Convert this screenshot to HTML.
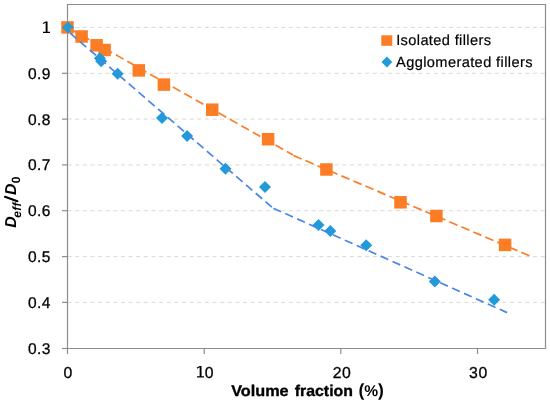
<!DOCTYPE html><html><head><meta charset="utf-8"><style>html,body{margin:0;padding:0;background:#fff;width:550px;height:404px;overflow:hidden}svg{display:block;will-change:transform}text{font-family:"Liberation Sans",sans-serif;fill:#000;text-rendering:geometricPrecision}.tk{stroke:#000;stroke-width:0.3px}.tb{stroke:#000;stroke-width:0.35px}.lg{stroke:#000;stroke-width:0.2px}</style></head><body>
<svg width="550" height="404" viewBox="0 0 550 404">
<rect width="550" height="404" fill="#fff"/>
<line x1="67.5" y1="27.4" x2="545" y2="27.4" stroke="#d9d9d9" stroke-width="1" stroke-dasharray="4.1 3.53"/>
<line x1="67.5" y1="73.3" x2="545" y2="73.3" stroke="#d9d9d9" stroke-width="1" stroke-dasharray="4.1 3.53"/>
<line x1="67.5" y1="119.1" x2="545" y2="119.1" stroke="#d9d9d9" stroke-width="1" stroke-dasharray="4.1 3.53"/>
<line x1="67.5" y1="164.9" x2="545" y2="164.9" stroke="#d9d9d9" stroke-width="1" stroke-dasharray="4.1 3.53"/>
<line x1="67.5" y1="210.7" x2="545" y2="210.7" stroke="#d9d9d9" stroke-width="1" stroke-dasharray="4.1 3.53"/>
<line x1="67.5" y1="256.6" x2="545" y2="256.6" stroke="#d9d9d9" stroke-width="1" stroke-dasharray="4.1 3.53"/>
<line x1="67.5" y1="302.4" x2="545" y2="302.4" stroke="#d9d9d9" stroke-width="1" stroke-dasharray="4.1 3.53"/>
<path d="M67.5 4.5 H545.5 V348.5 H67.5 Z" fill="none" stroke="#8c8c8c" stroke-width="1.2"/>
<line x1="62" y1="27.4" x2="67.5" y2="27.4" stroke="#8c8c8c" stroke-width="1.2"/>
<line x1="62" y1="73.3" x2="67.5" y2="73.3" stroke="#8c8c8c" stroke-width="1.2"/>
<line x1="62" y1="119.1" x2="67.5" y2="119.1" stroke="#8c8c8c" stroke-width="1.2"/>
<line x1="62" y1="164.9" x2="67.5" y2="164.9" stroke="#8c8c8c" stroke-width="1.2"/>
<line x1="62" y1="210.7" x2="67.5" y2="210.7" stroke="#8c8c8c" stroke-width="1.2"/>
<line x1="62" y1="256.6" x2="67.5" y2="256.6" stroke="#8c8c8c" stroke-width="1.2"/>
<line x1="62" y1="302.4" x2="67.5" y2="302.4" stroke="#8c8c8c" stroke-width="1.2"/>
<line x1="62" y1="348.5" x2="67.5" y2="348.5" stroke="#8c8c8c" stroke-width="1.2"/>
<line x1="67.5" y1="348.5" x2="67.5" y2="354" stroke="#8c8c8c" stroke-width="1.2"/>
<line x1="204.2" y1="348.5" x2="204.2" y2="354" stroke="#8c8c8c" stroke-width="1.2"/>
<line x1="340.8" y1="348.5" x2="340.8" y2="354" stroke="#8c8c8c" stroke-width="1.2"/>
<line x1="477.5" y1="348.5" x2="477.5" y2="354" stroke="#8c8c8c" stroke-width="1.2"/>
<rect x="61.25" y="21.15" width="12.5" height="12.5" fill="#fb7d26"/>
<rect x="75.35" y="30.25" width="12.5" height="12.5" fill="#fb7d26"/>
<rect x="90.35" y="39.05" width="12.5" height="12.5" fill="#fb7d26"/>
<rect x="98.35" y="43.75" width="12.5" height="12.5" fill="#fb7d26"/>
<rect x="132.55" y="64.15" width="12.5" height="12.5" fill="#fb7d26"/>
<rect x="157.65" y="78.35" width="12.5" height="12.5" fill="#fb7d26"/>
<rect x="205.95" y="103.45" width="12.5" height="12.5" fill="#fb7d26"/>
<rect x="261.85" y="132.95" width="12.5" height="12.5" fill="#fb7d26"/>
<rect x="320.15" y="163.25" width="12.5" height="12.5" fill="#fb7d26"/>
<rect x="394.25" y="196.05" width="12.5" height="12.5" fill="#fb7d26"/>
<rect x="430.15" y="209.75" width="12.5" height="12.5" fill="#fb7d26"/>
<rect x="498.85" y="238.65" width="12.5" height="12.5" fill="#fb7d26"/>
<path d="M68.00 21.40 L74.00 27.40 L68.00 33.40 L62.00 27.40 Z" fill="#209ad9"/>
<path d="M99.85 52.20 L105.85 58.20 L99.85 64.20 L93.85 58.20 Z" fill="#209ad9"/>
<path d="M101.20 55.20 L107.20 61.20 L101.20 67.20 L95.20 61.20 Z" fill="#209ad9"/>
<path d="M117.60 67.80 L123.60 73.80 L117.60 79.80 L111.60 73.80 Z" fill="#209ad9"/>
<path d="M162.00 112.10 L168.00 118.10 L162.00 124.10 L156.00 118.10 Z" fill="#209ad9"/>
<path d="M187.10 130.10 L193.10 136.10 L187.10 142.10 L181.10 136.10 Z" fill="#209ad9"/>
<path d="M225.50 162.80 L231.50 168.80 L225.50 174.80 L219.50 168.80 Z" fill="#209ad9"/>
<path d="M265.00 181.10 L271.00 187.10 L265.00 193.10 L259.00 187.10 Z" fill="#209ad9"/>
<path d="M318.50 219.00 L324.50 225.00 L318.50 231.00 L312.50 225.00 Z" fill="#209ad9"/>
<path d="M330.30 225.10 L336.30 231.10 L330.30 237.10 L324.30 231.10 Z" fill="#209ad9"/>
<path d="M366.20 239.20 L372.20 245.20 L366.20 251.20 L360.20 245.20 Z" fill="#209ad9"/>
<path d="M434.80 275.60 L440.80 281.60 L434.80 287.60 L428.80 281.60 Z" fill="#209ad9"/>
<path d="M494.10 293.80 L500.10 299.80 L494.10 305.80 L488.10 299.80 Z" fill="#209ad9"/>
<path d="M67.5 27.4 L293 155" fill="none" stroke="#fb7d26" stroke-width="1.7" stroke-dasharray="8.8 4.3" stroke-dashoffset="-3.2"/>
<path d="M293 155.3 L530 256" fill="none" stroke="#fb7d26" stroke-width="1.7" stroke-dasharray="8.8 4.23" stroke-dashoffset="-0.48"/>
<path d="M68.5 31.7 L272.8 208" fill="none" stroke="#4a86e8" stroke-width="1.7" stroke-dasharray="8.4 4.5" stroke-dashoffset="-2.2"/>
<path d="M272.8 208 L507.1 312.6" fill="none" stroke="#4a86e8" stroke-width="1.7" stroke-dasharray="8.4 4.65" stroke-dashoffset="-0.6"/>
<path d="M45.65 21.50 L47.55 21.50 L47.55 31.70 L50.00 31.70 L50.00 33.00 L43.00 33.00 L43.00 31.70 L45.65 31.70 L45.65 22.70 L43.20 24.10 L42.80 23.00 Z" fill="#000"/>
<text class="tk" x="27.9" y="78.6" font-size="15.5" letter-spacing="0.45">0.9</text>
<text class="tk" x="27.9" y="124.5" font-size="15.5" letter-spacing="0.45">0.8</text>
<text class="tk" x="27.9" y="170.3" font-size="15.5" letter-spacing="0.45">0.7</text>
<text class="tk" x="27.9" y="216.1" font-size="15.5" letter-spacing="0.45">0.6</text>
<text class="tk" x="27.9" y="261.9" font-size="15.5" letter-spacing="0.45">0.5</text>
<text class="tk" x="27.9" y="307.8" font-size="15.5" letter-spacing="0.45">0.4</text>
<text class="tk" x="27.9" y="353.6" font-size="15.5" letter-spacing="0.45">0.3</text>
<text class="tk" x="63.6" y="377.5" font-size="15.8">0</text>
<path d="M199.65 366.10 L201.55 366.10 L201.55 376.30 L204.00 376.30 L204.00 377.60 L197.00 377.60 L197.00 376.30 L199.65 376.30 L199.65 367.30 L197.20 368.70 L196.80 367.60 Z" fill="#000"/>
<text class="tk" x="204.7" y="377.5" font-size="15.8">0</text>
<text class="tk" x="332.7" y="377.5" font-size="15.8" letter-spacing="0.6">20</text>
<text class="tk" x="468.9" y="377.5" font-size="15.8" letter-spacing="0.9">30</text>
<text class="tb" x="231.2" y="396.1" font-size="15.5" font-weight="bold" textLength="57.4" lengthAdjust="spacingAndGlyphs">Volume</text>
<text class="tb" x="294.8" y="396.1" font-size="15.5" font-weight="bold" textLength="58.1" lengthAdjust="spacingAndGlyphs">fraction</text>
<text x="358.4" y="395.7" font-size="17.5" font-weight="bold">(</text>
<text x="364.3" y="396.2" font-size="15.6" font-weight="bold">%</text>
<text x="378" y="395.7" font-size="17.5" font-weight="bold">)</text>
<g transform="translate(0 228) rotate(-90)" font-weight="bold" font-style="italic">
<text x="0.2" y="16.2" font-size="15.8">D</text>
<text x="10.3" y="21.0" font-size="12" letter-spacing="0.4">eff</text>
<text x="33" y="15.9" font-size="15.8">D</text>
<text x="44.8" y="20.1" font-size="12" font-style="normal">0</text>
</g>
<path d="M5.0 196.8 L17.4 201.2" stroke="#000" stroke-width="2.1" stroke-linecap="round"/>
<rect x="381.3" y="35.3" width="11" height="10.5" fill="#fb7d26"/>
<path d="M386.9 56.6 L392.3 62 L386.9 67.4 L381.5 62 Z" fill="#209ad9"/>
<text class="lg" x="396.2" y="44.8" font-size="14.6" letter-spacing="0.37">Isolated fillers</text>
<text class="lg" x="396.1" y="66.8" font-size="14.6" letter-spacing="0.39">Agglomerated fillers</text>
</svg></body></html>
